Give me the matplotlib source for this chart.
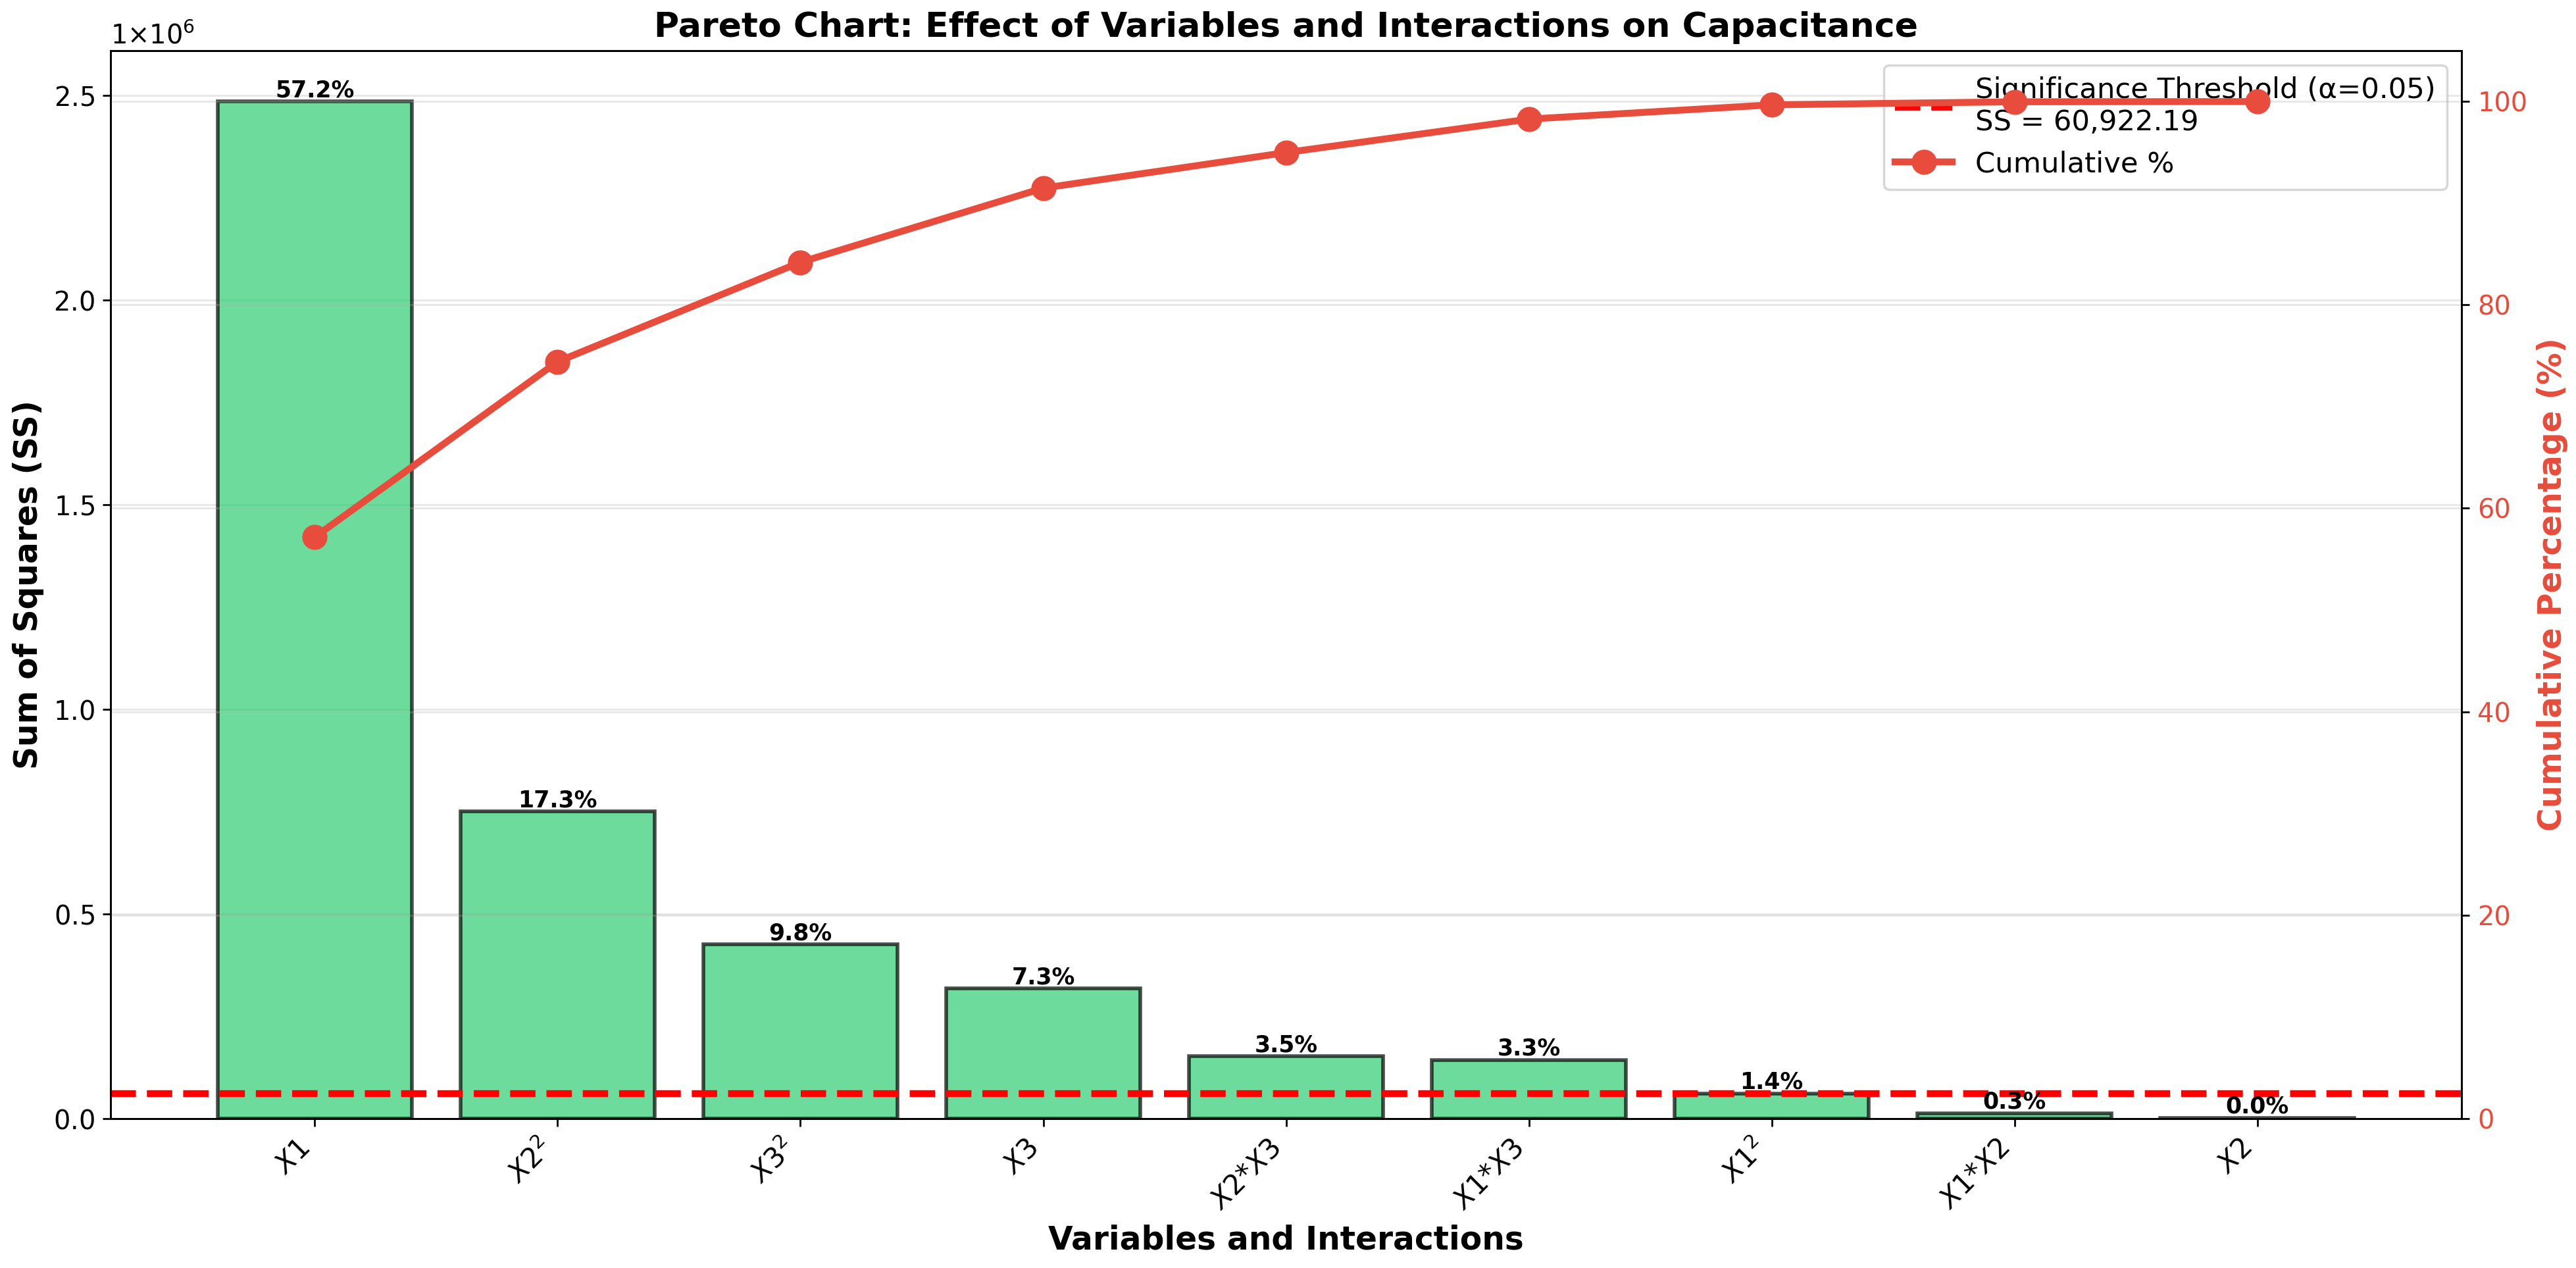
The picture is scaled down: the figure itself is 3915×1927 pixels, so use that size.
import numpy as np
import matplotlib
matplotlib.use('Agg')
import matplotlib.pyplot as plt
from matplotlib.ticker import ScalarFormatter

# Data
terms = [r'$\mathit{X1}$', r'$\mathit{X2}^{\mathit{2}}$', r'$\mathit{X3}^{\mathit{2}}$', r'$\mathit{X3}$',
         r'$\mathit{X2{*}X3}$', r'$\mathit{X1{*}X3}$', r'$\mathit{X1}^{\mathit{2}}$', r'$\mathit{X1{*}X2}$',
         r'$\mathit{X2}$']
ss_values = [2485000, 750000, 425000, 317000, 152000, 143000, 61000, 13000, 1000]
threshold = 60922.19

ss = np.array(ss_values, dtype=float)
pct = ss / ss.sum() * 100
cum_pct = np.cumsum(pct)
x = np.arange(len(terms))


class OneTimesFormatter(ScalarFormatter):
    # offset shown as "1×10^6" like the original
    def get_offset(self):
        if self.orderOfMagnitude == 0:
            return ''
        return r'$1{\times}\mathdefault{10^{%d}}$' % self.orderOfMagnitude


fig, ax1 = plt.subplots(figsize=(15.66, 7.708), dpi=250)
fig.subplots_adjust(left=0.043, right=0.9555, top=0.96, bottom=0.118)

bars = ax1.bar(x, ss, color='#2ecc71', alpha=0.7, edgecolor='black', linewidth=1.6)
for b, p in zip(bars, pct):
    ax1.text(b.get_x() + b.get_width() / 2, b.get_height(), f'{p:.1f}%',
             ha='center', va='bottom', fontsize=10, fontweight='bold')

thr = ax1.axhline(threshold, color='red', linestyle='--', linewidth=3,
                  label=f'Significance Threshold (α=0.05)\nSS = {threshold:,.2f}')

ax1.set_xticks(x)
ax1.set_xticklabels(terms, rotation=45, ha='right', fontsize=12)
ax1.tick_params(axis='y', labelsize=11.5)
fmt = OneTimesFormatter(useMathText=True)
fmt.set_powerlimits((0, 0))
ax1.yaxis.set_major_formatter(fmt)
ax1.yaxis.get_offset_text().set_fontsize(11.5)
ax1.set_xlabel('Variables and Interactions', fontsize=14, fontweight='bold')
ax1.set_ylabel('Sum of Squares (SS)', fontsize=14, fontweight='bold')
ax1.grid(axis='y', alpha=0.3)
ax1.set_axisbelow(True)
ax1.set_title('Pareto Chart: Effect of Variables and Interactions on Capacitance',
              fontsize=15, fontweight='bold')

ax2 = ax1.twinx()
line, = ax2.plot(x, cum_pct, color='#e74c3c', marker='o', linewidth=3,
                 markersize=10, label='Cumulative %')
ax2.set_ylim(0, 105)
ax2.set_ylabel('Cumulative Percentage (%)', fontsize=14, fontweight='bold', color='#e74c3c')
ax2.tick_params(axis='y', labelcolor='#e74c3c', labelsize=11.5)
ax2.grid(axis='y', alpha=0.3)

ax1.legend([thr, line], [thr.get_label(), line.get_label()], loc='upper right', fontsize=12.5)

plt.savefig('out.png', dpi=250)
